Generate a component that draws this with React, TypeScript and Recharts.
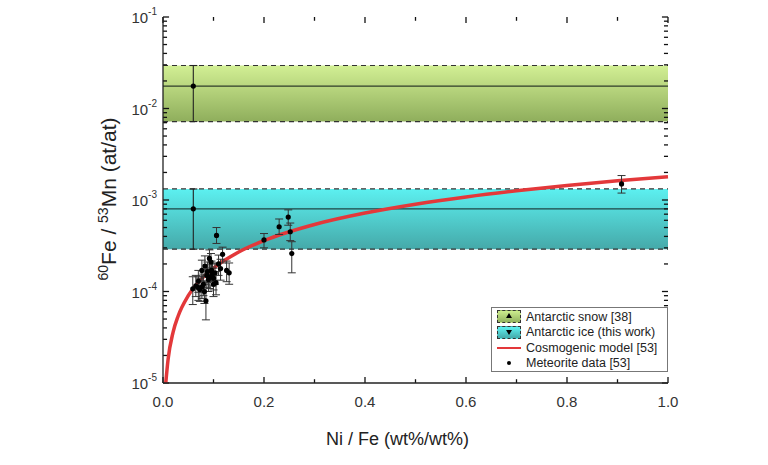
import React from 'react';
import {
  ComposedChart,
  XAxis,
  YAxis,
  ReferenceArea,
  ReferenceLine,
  Line,
  Scatter,
  ErrorBar,
  Label,
} from 'recharts';

const FONT = '"Liberation Sans", Arial, sans-serif';

// Meteorite data [53]
const metNiFe = [
  0.059, 0.065, 0.07, 0.07, 0.073, 0.077, 0.077, 0.08, 0.082, 0.083, 0.085, 0.087, 0.088,
  0.09, 0.092, 0.093, 0.095, 0.096, 0.098, 0.1, 0.1, 0.103, 0.105, 0.106, 0.11, 0.114,
  0.118, 0.126, 0.131, 0.2, 0.23, 0.248, 0.252, 0.255, 0.908,
];
const metRatio = [
  1.07e-4, 1.15e-4, 1.1e-4, 1.3e-4, 1.05e-4, 1.12e-4, 1.7e-4, 1.2e-4, 1.0e-4, 1.9e-4, 7.9e-5,
  1.5e-4, 1.65e-4, 1.35e-4, 2.3e-4, 1.45e-4, 2.1e-4, 1.7e-4, 1.55e-4, 1.4e-4, 1.2e-4, 1.6e-4,
  1.25e-4, 4.1e-4, 2.0e-4, 1.78e-4, 2.55e-4, 1.7e-4, 1.6e-4, 3.66e-4, 5.1e-4, 6.5e-4, 4.5e-4,
  2.6e-4, 1.5e-3,
];
const metLow = [
  7.2e-5, 8.8e-5, 8e-5, 9.8e-5, 7.8e-5, 8.4e-5, 1.3e-4, 9e-5, 7.4e-5, 1.45e-4, 4.9e-5,
  1.1e-4, 1.25e-4, 1.0e-4, 1.8e-4, 1.08e-4, 1.65e-4, 1.28e-4, 1.15e-4, 1.04e-4, 8.8e-5, 1.2e-4,
  9.2e-5, 3.35e-4, 1.5e-4, 1.33e-4, 2.05e-4, 1.28e-4, 1.2e-4, 3.0e-4, 4.2e-4, 5.3e-4, 3.6e-4,
  1.6e-4, 1.19e-3,
];
const metHigh = [
  1.45e-4, 1.5e-4, 1.45e-4, 1.7e-4, 1.4e-4, 1.48e-4, 2.2e-4, 1.55e-4, 1.3e-4, 2.45e-4, 1.2e-4,
  1.95e-4, 2.1e-4, 1.75e-4, 2.85e-4, 1.85e-4, 2.6e-4, 2.15e-4, 2.0e-4, 1.8e-4, 1.55e-4, 2.05e-4,
  1.65e-4, 5.0e-4, 2.5e-4, 2.25e-4, 3.05e-4, 2.15e-4, 2.05e-4, 4.3e-4, 6.2e-4, 7.8e-4, 5.6e-4,
  3.5e-4, 1.85e-3,
];

// Cosmogenic model [53]
const modelNiFe = [0.0055, 0.01, 0.02, 0.03, 0.05, 0.075, 0.1, 0.15, 0.2, 0.3, 0.4, 0.5, 0.6, 0.7, 0.8, 0.9, 1.0];
const modelRatio = [
  1.0e-5, 1.8e-5, 3.6e-5, 5.4e-5, 9e-5, 1.35e-4, 1.8e-4, 2.7e-4, 3.6e-4, 5.4e-4, 7.2e-4, 9e-4,
  1.08e-3, 1.26e-3, 1.44e-3, 1.62e-3, 1.8e-3,
];

// Antarctic snow [38] and ice (this work)
const bandNiFe = [0.06, 0.06];
const bandMid = [0.0176, 8e-4];
const bandLow = [0.0072, 2.9e-4];
const bandHigh = [0.0295, 1.32e-3];

const xMajor = [0, 0.2, 0.4, 0.6, 0.8, 1.0];
const xLabels = ['0.0', '0.2', '0.4', '0.6', '0.8', '1.0'];
const xMinor = [0.1, 0.3, 0.5, 0.7, 0.9];
const yMajor = [1e-5, 1e-4, 1e-3, 1e-2, 1e-1];
const yExp = ['-5', '-4', '-3', '-2', '-1'];
const yMinorMult = [2, 3, 4, 5, 6, 7, 8, 9];

const yMinor: number[] = [];
yMajor.slice(0, -1).forEach((d) => yMinorMult.forEach((m) => yMinor.push(m * d)));

const X0 = 0;
const X1 = 1;
const Y0 = 1e-5;
const Y1 = 1e-1;

// tick lengths: in x units for ticks on the y sides, as log factors for ticks on the x sides
const xLenMajor = 0.012;
const xLenMinor = 0.008;
const yLenMajor = 1.16;
const yLenMinor = 1.1;

const metData = metNiFe.map((x, i) => ({
  x,
  y: metRatio[i],
  err: [metRatio[i] - metLow[i], metHigh[i] - metRatio[i]],
}));
const modelData = modelNiFe.map((x, i) => ({ x, y: modelRatio[i] }));
const bandData = bandNiFe.map((x, i) => ({
  x,
  y: bandMid[i],
  err: [bandMid[i] - bandLow[i], bandHigh[i] - bandMid[i]],
}));

// inward tick marks on all four sides of the frame
const tickSegments = [
  ...xMajor.map((x) => [{ x, y: Y0 }, { x, y: Y0 * yLenMajor }]),
  ...xMinor.map((x) => [{ x, y: Y0 }, { x, y: Y0 * yLenMinor }]),
  ...xMajor.map((x) => [{ x, y: Y1 }, { x, y: Y1 / yLenMajor }]),
  ...xMinor.map((x) => [{ x, y: Y1 }, { x, y: Y1 / yLenMinor }]),
  ...yMajor.map((y) => [{ x: X0, y }, { x: X0 + xLenMajor, y }]),
  ...yMinor.map((y) => [{ x: X0, y }, { x: X0 + xLenMinor, y }]),
  ...yMajor.map((y) => [{ x: X1, y }, { x: X1 - xLenMajor, y }]),
  ...yMinor.map((y) => [{ x: X1, y }, { x: X1 - xLenMinor, y }]),
];

const BottomLabel = (props: any) => {
  const i = xMajor.findIndex((t) => Math.abs(t - props.payload.value) < 1e-9);
  return (
    <text x={props.x} y={Number(props.y) + 24} textAnchor="middle" fontSize={15} fontFamily={FONT} fill="#333">
      {xLabels[i]}
    </text>
  );
};

const LeftLabel = (props: any) => {
  const i = yMajor.findIndex((m) => Math.abs(Math.log10(props.payload.value) - Math.log10(m)) < 1e-6);
  return (
    <text x={Number(props.x) - 6} y={Number(props.y) + 6} textAnchor="end" fontSize={15} fontFamily={FONT} fill="#333">
      <tspan>10</tspan>
      <tspan dy={-8} fontSize={10}>{yExp[i]}</tspan>
    </text>
  );
};

const YTitle = ({ viewBox }: any) => {
  const cx = viewBox.x + 13;
  const cy = viewBox.y + 182;
  return (
    <text
      x={cx}
      y={cy}
      transform={`rotate(-90 ${cx} ${cy})`}
      textAnchor="middle"
      fontSize={21}
      fontFamily={FONT}
      fill="#222"
    >
      <tspan dy={-8} fontSize={14}>60</tspan>
      <tspan dy={8}>Fe / </tspan>
      <tspan dy={-8} fontSize={14}>53</tspan>
      <tspan dy={8}>Mn (at/at)</tspan>
    </text>
  );
};

const XTitle = ({ viewBox }: any) => (
  <text
    x={viewBox.x + viewBox.width / 2 - 18}
    y={viewBox.y + 62}
    textAnchor="middle"
    fontSize={18}
    fontFamily={FONT}
    fill="#222"
  >
    Ni / Fe (wt%/wt%)
  </text>
);

const Dot = ({ cx, cy }: any) => <circle cx={cx} cy={cy} r={2.6} fill="#000" />;

const LegendBox = () => {
  const row = { display: 'flex', alignItems: 'center', height: 15.5 } as const;
  const sw = { width: 24, height: 13, marginRight: 5, position: 'relative', boxSizing: 'border-box' } as const;
  return (
    <div
      style={{
        position: 'absolute',
        left: 491,
        top: 307,
        width: 177,
        height: 65,
        border: '1px solid #777',
        background: '#fff',
        boxSizing: 'border-box',
        padding: '1px 0 0 5px',
        fontFamily: FONT,
        fontSize: 12.5,
        color: '#222',
      }}
    >
      <div style={row}>
        <div style={{ ...sw, border: '1.5px dashed #333', background: 'linear-gradient(#cdec8e, #93b360)' }}>
          <div style={{ position: 'absolute', left: 8, top: 2, width: 0, height: 0, borderLeft: '3px solid transparent', borderRight: '3px solid transparent', borderBottom: '5px solid #000' }} />
        </div>
        Antarctic snow [38]
      </div>
      <div style={row}>
        <div style={{ ...sw, border: '1.5px dashed #333', background: 'linear-gradient(#5ef2f2, #44aaaa)' }}>
          <div style={{ position: 'absolute', left: 8, top: 3, width: 0, height: 0, borderLeft: '3px solid transparent', borderRight: '3px solid transparent', borderTop: '5px solid #000' }} />
        </div>
        Antarctic ice (this work)
      </div>
      <div style={row}>
        <div style={{ ...sw, height: 2, background: '#e3383a' }} />
        Cosmogenic model [53]
      </div>
      <div style={row}>
        <div style={{ ...sw, height: 13, display: 'flex', alignItems: 'center', justifyContent: 'center' }}>
          <div style={{ width: 4, height: 4, borderRadius: 2, background: '#000' }} />
        </div>
        Meteorite data [53]
      </div>
    </div>
  );
};

export default function App() {
  return (
    <div style={{ position: 'absolute', left: 0, top: 0, width: 768, height: 465, background: '#fff' }}>
      <ComposedChart width={768} height={465} margin={{ top: 17, right: 100, bottom: 22, left: 103 }}>
        <defs>
          <linearGradient id="snowGrad" x1="0" y1="0" x2="0" y2="1">
            <stop offset="0%" stopColor="#d2ef94" />
            <stop offset="100%" stopColor="#8fae5c" />
          </linearGradient>
          <linearGradient id="iceGrad" x1="0" y1="0" x2="0" y2="1">
            <stop offset="0%" stopColor="#5cf0f0" />
            <stop offset="100%" stopColor="#45a9a9" />
          </linearGradient>
        </defs>
        <XAxis
          dataKey="x"
          type="number"
          domain={[X0, X1]}
          ticks={xMajor}
          interval={0}
          height={60}
          tickSize={0}
          tickMargin={0}
          tickLine={false}
          tick={BottomLabel}
          axisLine={{ stroke: '#222', strokeWidth: 1.3 }}
        >
          <Label content={<XTitle />} />
        </XAxis>
        <XAxis
          xAxisId="top"
          orientation="top"
          dataKey="x"
          type="number"
          domain={[X0, X1]}
          height={0}
          tick={false}
          tickLine={false}
          axisLine={{ stroke: '#222', strokeWidth: 1.3 }}
        />
        <YAxis
          dataKey="y"
          type="number"
          scale="log"
          domain={[Y0, Y1]}
          ticks={yMajor}
          interval={0}
          width={60}
          tickSize={0}
          tickMargin={0}
          tickLine={false}
          tick={LeftLabel}
          axisLine={{ stroke: '#222', strokeWidth: 1.3 }}
        >
          <Label content={<YTitle />} />
        </YAxis>
        <YAxis
          yAxisId="right"
          orientation="right"
          dataKey="y"
          type="number"
          scale="log"
          domain={[Y0, Y1]}
          width={0}
          tick={false}
          tickLine={false}
          axisLine={{ stroke: '#222', strokeWidth: 1.3 }}
        />
        <ReferenceArea y1={bandLow[0]} y2={bandHigh[0]} fill="url(#snowGrad)" fillOpacity={1} stroke="none" />
        <ReferenceArea y1={bandLow[1]} y2={bandHigh[1]} fill="url(#iceGrad)" fillOpacity={1} stroke="none" />
        <ReferenceLine y={bandHigh[0]} stroke="#333" strokeDasharray="5 4" strokeWidth={1.2} />
        <ReferenceLine y={bandLow[0]} stroke="#333" strokeDasharray="5 4" strokeWidth={1.2} />
        <ReferenceLine y={bandMid[0]} stroke="#2f3d2a" strokeWidth={1.2} />
        <ReferenceLine y={bandHigh[1]} stroke="#333" strokeDasharray="5 4" strokeWidth={1.2} />
        <ReferenceLine y={bandLow[1]} stroke="#333" strokeDasharray="5 4" strokeWidth={1.2} />
        <ReferenceLine y={bandMid[1]} stroke="#1f4545" strokeWidth={1.2} />
        {tickSegments.map((seg, i) => (
          <ReferenceLine key={`t${i}`} segment={seg} stroke="#111" strokeWidth={1.3} ifOverflow="visible" />
        ))}
        <Scatter data={bandData} dataKey="y" shape={<Dot />} isAnimationActive={false}>
          <ErrorBar dataKey="err" direction="y" width={4} stroke="#222" strokeWidth={1.1} isAnimationActive={false} />
        </Scatter>
        <Line
          data={modelData}
          dataKey="y"
          type="monotone"
          stroke="#e3383a"
          strokeWidth={3.5}
          dot={false}
          isAnimationActive={false}
        />
        <Scatter data={metData} dataKey="y" shape={<Dot />} isAnimationActive={false}>
          <ErrorBar dataKey="err" direction="y" width={4} stroke="#333" strokeWidth={1} isAnimationActive={false} />
        </Scatter>
      </ComposedChart>
      <LegendBox />
    </div>
  );
}
